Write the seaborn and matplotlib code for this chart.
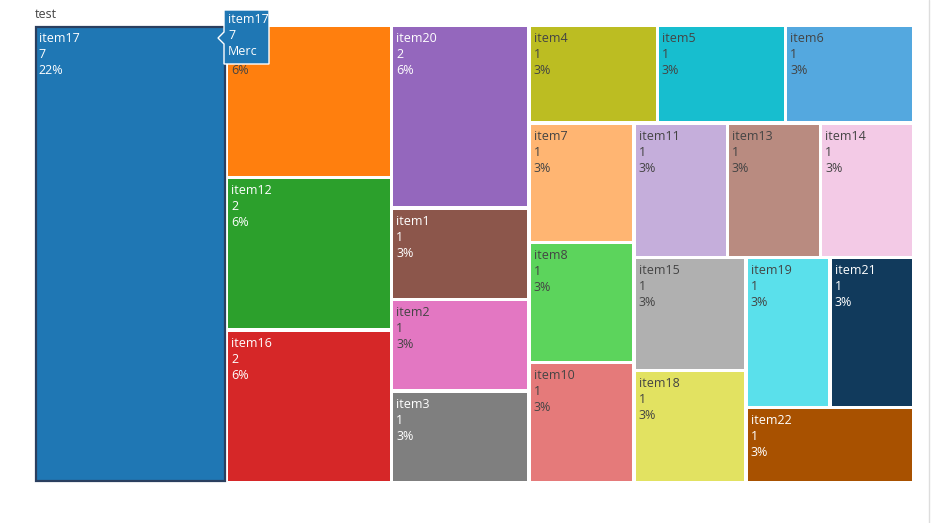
import matplotlib
matplotlib.use("Agg")
import matplotlib.pyplot as plt
from matplotlib.patches import Rectangle, Polygon
import seaborn as sns

sns.set_theme(style="white")
plt.rcParams['font.family'] = ['Open Sans', 'DejaVu Sans']

# ---- data (in original data order) ----
labels = ["item1", "item2", "item3", "item4", "item5", "item6", "item7", "item8",
          "item9", "item10", "item11", "item12", "item13", "item14", "item15",
          "item16", "item17", "item18", "item19", "item20", "item21", "item22"]
values = [1, 1, 1, 1, 1, 1, 1, 1, 2, 1, 1, 2, 1, 1, 1, 2, 7, 1, 1, 2, 1, 1]
title = "test"
hover_lines = ["item17", "7", "Merc"]

# colours assigned in sorted order (plotly colorway + extended treemap colours)
base_colors = sns.color_palette("tab10").as_hex()
extra_colors = ["#54a8df", "#ffb572", "#5cd45c", "#e57a7a", "#c5aedb", "#b98b80",
                "#f3cae6", "#b0b0b0", "#e2e261", "#5ae0eb", "#113a5c", "#a85100"]
palette = base_colors + extra_colors

# ---- squarify (d3 style, ratio 1) ----
def squarify(vals, x0, y0, x1, y1, ratio=1.0):
    out = [None] * len(vals)
    n = len(vals)
    value = float(sum(vals))
    i0 = i1 = 0
    while i0 < n:
        dx, dy = x1 - x0, y1 - y0
        sumv = vals[i1]; i1 += 1
        minv = maxv = sumv
        alpha = max(dy / dx, dx / dy) / (value * ratio)
        beta = sumv * sumv * alpha
        minr = max(maxv / beta, beta / minv)
        while i1 < n:
            nv = vals[i1]
            sumv += nv
            minv = min(minv, nv); maxv = max(maxv, nv)
            beta = sumv * sumv * alpha
            nr = max(maxv / beta, beta / minv)
            if nr > minr:
                sumv -= nv
                break
            minr = nr
            i1 += 1
        row = list(range(i0, i1))
        if dx < dy:  # dice: horizontal row on top
            ny = y0 + dy * sumv / value
            cx = x0
            for k in row:
                w = dx * vals[k] / sumv
                out[k] = (cx, y0, cx + w, ny)
                cx += w
            y0 = ny
        else:  # slice: vertical column on left
            nx = x0 + dx * sumv / value
            cy = y0
            for k in row:
                h = dy * vals[k] / sumv
                out[k] = (x0, cy, nx, cy + h)
                cy += h
            x0 = nx
        value -= sumv
        i0 = i1
    return out

order = sorted(range(len(values)), key=lambda i: -values[i])  # stable sort
svals = [values[i] for i in order]
slabels = [labels[i] for i in order]
total = sum(values)

W, H = 937, 523
fig = plt.figure(figsize=(W / 100, H / 100), dpi=100)
ax = fig.add_axes([0, 0, 1, 1])
ax.set_xlim(0, W)
ax.set_ylim(H, 0)
ax.axis("off")

rects = squarify(svals, 34.0, 25.0, 914.0, 482.5)
gap = 1.6

def is_light(hexc):
    r, g, b = [int(hexc[i:i + 2], 16) for i in (1, 3, 5)]
    return (r * 299 + g * 587 + b * 114) / 1000 >= 128

for k, (lab, v, (a, b, c, d)) in enumerate(zip(slabels, svals, rects)):
    col = palette[k]
    hovered = lab == "item17"
    ax.add_patch(Rectangle((a + gap, b + gap), c - a - 2 * gap, d - b - 2 * gap,
                           facecolor=col,
                           edgecolor="#2a3f5f" if hovered else "none",
                           linewidth=1.6 if hovered else 0, zorder=1))
    tc = "#444444" if is_light(col) else "white"
    pct = f"{round(100 * v / total)}%"
    for j, t in enumerate([lab, str(v), pct]):
        ax.text(a + gap + 3, b + gap + 5 + 16 * j, t, fontsize=9, color=tc,
                ha="left", va="top", zorder=2)

# title
ax.text(35, 8, title, fontsize=9, color="#444444", ha="left", va="top")

# hover label (drawn on top, hiding the text underneath as in the reference)
bx0, by0, bx1, by1 = 224, 10, 269, 64
ax.add_patch(Polygon([(bx0, by0), (bx1, by0), (bx1, by1), (bx0, by1),
                      (bx0, 44), (218, 38), (bx0, 32)],
                     closed=True, facecolor="#1f77b4", edgecolor="white",
                     linewidth=1, zorder=10))
for j, t in enumerate(hover_lines):
    ax.text(bx0 + 4, by0 + 3 + 16 * j, t, fontsize=9, color="white",
            ha="left", va="top", zorder=11)

# faint right edge line
ax.plot([929.5, 929.5], [0, H], color="#dddddd", linewidth=1)

fig.savefig("out.png", dpi=100)
